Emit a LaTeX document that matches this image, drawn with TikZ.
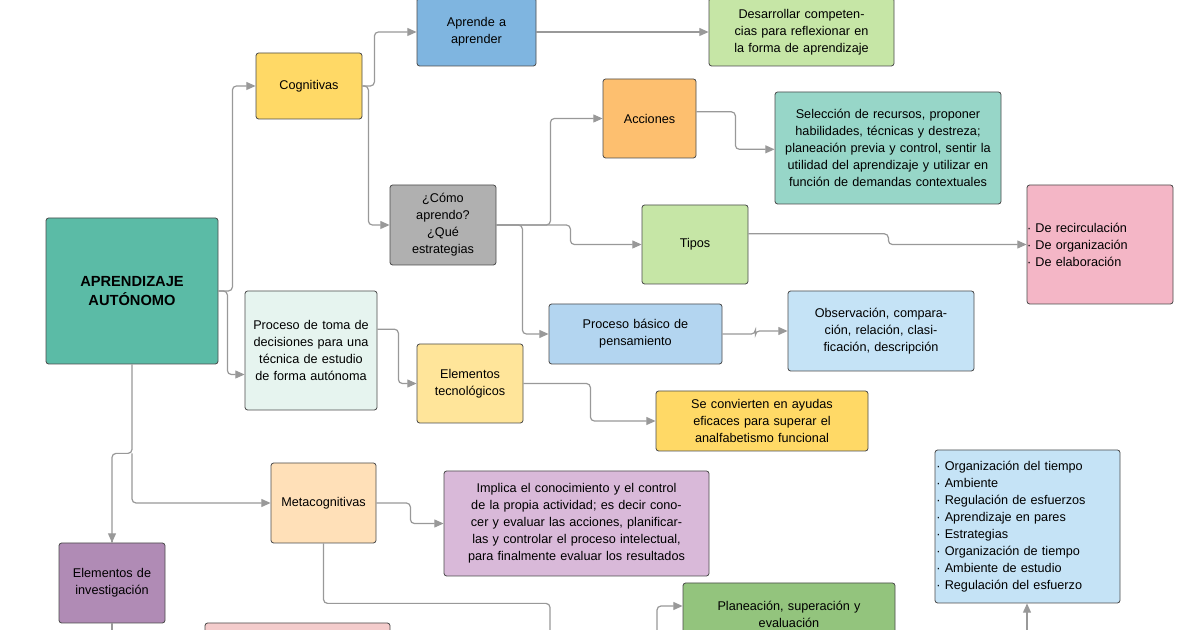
\documentclass[tikz,border=0pt]{standalone}
\usepackage{fontspec}
\setmainfont{Liberation Sans}
\usetikzlibrary{arrows.meta}
\definecolor{cteal}{HTML}{5BBBA6}
\definecolor{cyel}{HTML}{FFD966}
\definecolor{cblue}{HTML}{7FB5E0}
\definecolor{clgreen}{HTML}{C6E6A6}
\definecolor{corange}{HTML}{FDBF6F}
\definecolor{cmint}{HTML}{97D6C8}
\definecolor{cgray}{HTML}{B0B0B0}
\definecolor{cpink}{HTML}{F4B6C6}
\definecolor{cpblue}{HTML}{B3D5F0}
\definecolor{clblue}{HTML}{C5E3F6}
\definecolor{cpale}{HTML}{E6F4EF}
\definecolor{clyel}{HTML}{FFE59A}
\definecolor{cpeach}{HTML}{FFE0B8}
\definecolor{cmauve}{HTML}{D9B9D9}
\definecolor{cpurple}{HTML}{B08BB5}
\definecolor{cgreen}{HTML}{93C47D}
\definecolor{clpink}{HTML}{F4CCCC}
\tikzset{
 box/.style={draw=black!70,line width=0.6pt,rounded corners=2pt,inner sep=0pt,align=center,font=\fontsize{9.5}{12.8}\selectfont},
 conn/.style={draw=black!40,line width=0.9pt,rounded corners=3pt,-{Triangle[length=7pt,width=6pt]}},
 plain/.style={draw=black!40,line width=0.9pt,rounded corners=3pt}
}
\newcommand\bx[7][]{\node[box,#1,minimum width={(#5-#3)*0.75pt},minimum height={(#6-#4)*0.75pt},text width={(#5-#3-8)*0.75pt}] (#2) at ({(#3+#5)/2},{(#4+#6)/2}) {#7};}
\begin{document}
\begin{tikzpicture}[x=0.75pt,y=-0.75pt]
\useasboundingbox (0,0) rectangle (1200,630);
\clip (0,0) rectangle (1200,630);
\fill[white] (0,0) rectangle (1200,630);
\bx[fill=cteal,font=\bfseries\fontsize{11}{14}\selectfont]{main}{46}{218}{218}{364}{APRENDIZAJE AUTÓNOMO}
\bx[fill=cyel]{cog}{256}{53}{362}{119}{Cognitivas}
\bx[fill=cblue]{apr}{417}{-2}{536}{66}{Aprende a\\aprender}
\bx[fill=clgreen]{des}{709}{-2}{894}{66}{Desarrollar competencias para reflexionar en la forma de aprendizaje}
\bx[fill=corange]{acc}{603}{79}{696}{158}{Acciones}
\bx[fill=cmint]{sel}{775}{92}{1001}{204}{Selección de recursos, proponer habilidades, técnicas y destreza; planeación previa y control, sentir la utilidad del aprendizaje y utilizar en función de demandas contextuales}
\bx[fill=cgray]{como}{390}{185}{496}{265}{¿Cómo\\aprendo?\\¿Qué\\estrategias}
\bx[fill=clgreen]{tip}{642}{205}{748}{284}{Tipos}
\bx[fill=cpink,align=left]{rec}{1027}{185}{1173}{304}{\hspace*{-3pt}· De recirculación\\\hspace*{-3pt}· De organización\\\hspace*{-3pt}· De elaboración}
\bx[fill=cpblue]{pbp}{549}{304}{722}{364}{Proceso básico de\\pensamiento}
\bx[fill=clblue]{obs}{788}{291}{974}{371}{Observación, comparación, relación, clasificación, descripción}
\bx[fill=cpale]{tom}{245}{291}{377}{410}{Proceso de toma de decisiones para una técnica de estudio de forma autónoma}
\bx[fill=clyel]{tec}{417}{344}{523}{423}{Elementos\\tecnológicos}
\bx[fill=cyel]{sec}{656}{391}{868}{451}{Se convierten en ayudas eficaces para superar el analfabetismo funcional}
\bx[fill=cpeach]{met}{271}{463}{376}{543}{Metacognitivas}
\bx[fill=cmauve]{imp}{444}{471}{709}{576}{Implica el conocimiento y el control de la propia actividad; es decir conocer y evaluar las acciones, planificarlas y controlar el proceso intelectual, para finalmente evaluar los resultados}
\bx[fill=cpurple]{inv}{59}{543}{165}{623}{Elementos de\\investigación}
\bx[fill=clblue,align=left]{lst}{935}{450}{1120}{603}{\hspace*{-2pt}· Organización del tiempo\\\hspace*{-2pt}· Ambiente\\\hspace*{-2pt}· Regulación de esfuerzos\\\hspace*{-2pt}· Aprendizaje en pares\\\hspace*{-2pt}· Estrategias\\\hspace*{-2pt}· Organización de tiempo\\\hspace*{-2pt}· Ambiente de estudio\\\hspace*{-2pt}· Regulación del esfuerzo}
\bx[fill=cgreen]{pla}{683}{583}{895}{645}{Planeación, superación y\\evaluación\\[10pt]}
\bx[fill=clpink]{pk}{205}{623}{390}{660}{}
\coordinate (e1) at (325,640);
\coordinate (e2) at (657,640);
\coordinate (e3) at (1027,640);
\coordinate (e4) at (112,640);
% connectors
\draw[conn] (main.east) -- ++(14,0) |- (cog.west);
\draw[conn] ([yshift=0pt]main.east) -- ++(9,0) |- ([yshift=-18pt]tom.west);
\draw[plain] (main.south) -- ++(0,89) -| (inv.north);
\draw[conn] (inv.north) ++(0,-1) -- (inv.north);
\draw[conn] (main.south) ++(0,89) |- (met.west);
\draw[conn] (cog.east) -- ++(12,0) |- (apr.west);
\draw[conn] (cog.east) -- ++(6,0) |- (como.west);
\draw[conn] (apr.east) -- (des.west);
\draw[conn] (como.east) -- ++(54,0) |- (acc.west);
\draw[conn] (como.east) -- ++(74,0) |- (tip.west);
\draw[conn] (como.east) -- ++(26,0) |- (pbp.west);
\draw[conn] ([yshift=5pt]acc.east) -- ++(39,0) |- ([yshift=-1pt]sel.west);
\draw[conn] ([yshift=8pt]tip.east) -- ++(140,0) |- (rec.west);
\draw[conn] (pbp.east) -- ++(33,0) |- (obs.west);
\draw[conn] ([yshift=16pt]tom.east) -- ++(21,0) |- (tec.west);
\draw[conn] (tec.east) -- ++(67,0) |- (sec.west);
\draw[conn] (met.east) -- ++(34,0) |- (imp.west);
\draw[plain] (met.south) -- ++(0,60) -| (550,640);
\draw[conn] (e2) |- ([yshift=6pt]pla.west);
\draw[conn] (e3) -- (lst.south -| e3);
\draw[plain] (inv.south) -- (e4);
\end{tikzpicture}
\end{document}
